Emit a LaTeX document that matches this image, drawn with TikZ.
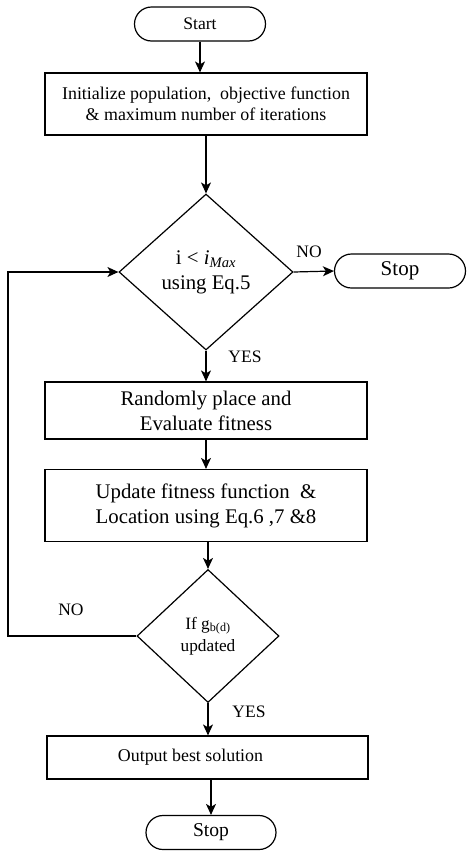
\documentclass[tikz,border=0pt]{standalone}
\usepackage{fontspec}
\setmainfont{Liberation Serif}
\usetikzlibrary{shapes.geometric,arrows.meta}
\begin{document}
\begin{tikzpicture}[x=1pt,y=1pt,
  line width=1.2pt,
  box/.style={draw,rectangle,inner sep=0pt,align=center},
  term/.style={draw,rectangle,rounded corners=17pt,inner sep=0pt,minimum width=131pt,minimum height=34pt},
  dec/.style={draw,diamond,inner sep=0pt,align=center},
  arr/.style={-{Stealth[length=11pt,width=10pt,inset=3pt]}},
  lab/.style={font=\fontsize{17.5}{20}\selectfont}]
\useasboundingbox (0,0) rectangle (474,-857);
\node[term,font=\fontsize{17.6}{20}\selectfont] (start) at (200,-24) {Start};
\node[box,minimum width=322pt,minimum height=62pt,font=\fontsize{17.9}{21.5}\selectfont] (init) at (206,-104) {Initialize population,\ \ objective function\\\& maximum number of iterations};
\node[dec,minimum width=174pt,minimum height=156pt,font=\fontsize{20.8}{25}\selectfont] (d1) at (206,-272) {i < \textit{i}\textsubscript{\textit{Max}}\\using Eq.5};
\node[term,font=\fontsize{21}{24}\selectfont] (stopr) at (400,-271) {Stop};
\node[box,minimum width=322pt,minimum height=57pt,font=\fontsize{20.8}{25}\selectfont] (b3) at (206,-410.5) {Randomly place and\\Evaluate fitness};
\node[box,minimum width=322pt,minimum height=72pt,font=\fontsize{20.8}{25}\selectfont] (b4) at (206,-505.5) {Update fitness function\ \ \&\\Location using Eq.6 ,7 \&8};
\node[dec,minimum width=142pt,minimum height=133pt,font=\fontsize{17.3}{22}\selectfont] (d2) at (208,-636) {If g\textsubscript{b(d)}\\updated};
\node[box,minimum width=321pt,minimum height=43pt,font=\fontsize{17.9}{20}\selectfont] (out) at (207.5,-757.5) {\hspace*{-34pt}Output best solution};
\node[term,minimum width=130pt,font=\fontsize{19.6}{22}\selectfont] (stopb) at (211,-832.5) {Stop};
\node[lab] (no1) at (309,-252) {NO};
\node[lab] (yes1) at (245,-357) {YES};
\node[lab] (no2) at (71,-610) {NO};
\node[lab] (yes2) at (249,-712) {YES};
\coordinate (lc) at (8,-272);
\draw[arr] (start.south) -- (start.south |- init.north);
\draw[arr] (init.south) -- (d1.north);
\draw[arr] (d1.east) -- (stopr.west);
\draw[arr] (d1.south) -- (b3.north -| d1.south);
\draw[arr] (b3.south) -- (b4.north);
\draw[arr] (b4.south -| d2.north) -- (d2.north);
\draw[arr] (d2.south) -- (out.north -| d2.south);
\draw[arr] (out.south -| stopb.north) -- (stopb.north);
\draw[arr] (d2.west) -| (lc) -- (d1.west);
\end{tikzpicture}
\end{document}
